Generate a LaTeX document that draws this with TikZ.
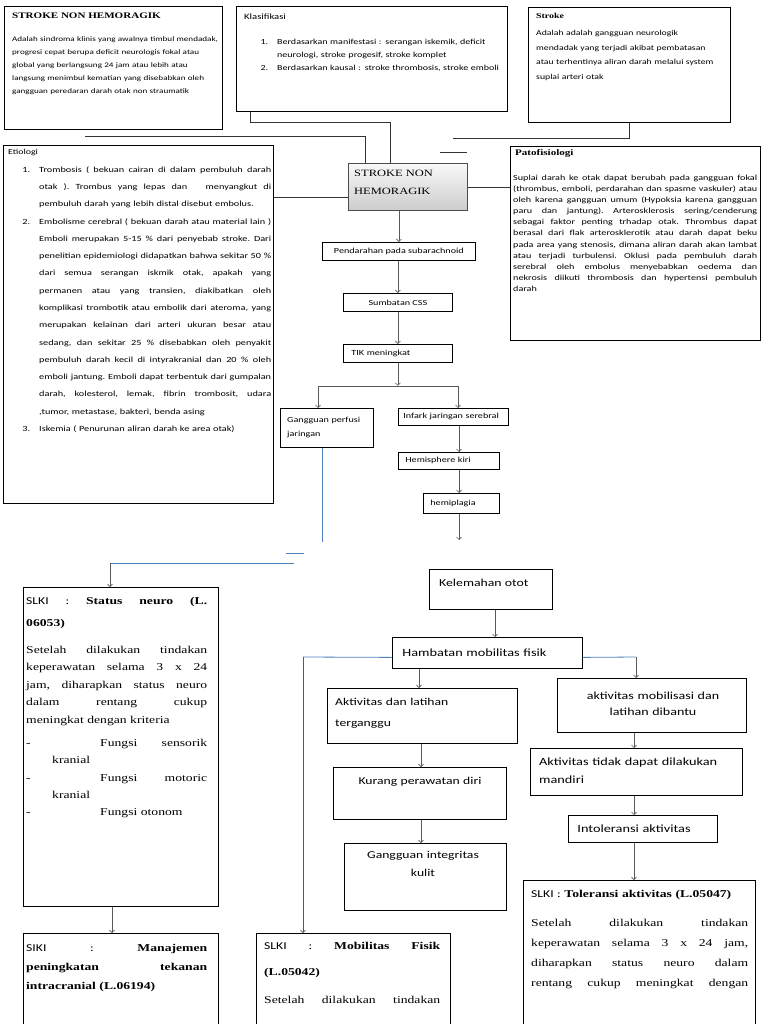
\documentclass[tikz,border=0pt]{standalone}
\usepackage{fontspec}
\setmainfont{Carlito}[FakeStretch=1.3]
\newfontfamily\fserif{Liberation Serif}[FakeStretch=1.3]
\usetikzlibrary{arrows.meta}
\definecolor{garisbiru}{RGB}{79,129,189}
\newcommand{\lb}{100pt}
% baris rata kiri-kanan selebar \lb
\newcommand{\jb}[1]{\leavevmode\hbox to \lb{\frenchspacing\spaceskip=.25em plus 1fil\relax #1}}
\newcommand{\nomor}[1]{\leavevmode\llap{#1\hspace{9pt}}}
\newcommand{\uk}[2]{\fontsize{#1}{#2}\selectfont}
\newcommand{\tb}[1]{{\fserif\bfseries #1}}

\begin{document}
\begin{tikzpicture}[x=1pt,y=-1pt,
  kotak/.style={draw, line width=0.8pt, inner sep=0pt, anchor=north west},
  isi/.style={anchor=base west, inner sep=0pt, align=left},
  alur/.style={kotak, font=\uk{7.8}{10}},
  bawah/.style={kotak, font=\uk{11}{14}},
  panah/.style={draw=black!65, line width=0.6pt, -{Straight Barb[length=2.5pt,width=5pt]}},
  cabang/.style={panah, arrows={Straight Barb[length=2.5pt,width=5pt]-Straight Barb[length=2.5pt,width=5pt]}},
  garis/.style={draw=black!80, line width=0.7pt},
  biru/.style={draw=garisbiru, line width=0.8pt}]
\clip (0,0) rectangle (768,1024);
\fill[white] (0,0) rectangle (768,1024);

%% kotak atas
\node[kotak, minimum width=218pt, minimum height=123pt] (def) at (4,6) {};
\node[isi, font=\uk{8.5}{10}] at (12,18.5) {\tb{STROKE NON HEMORAGIK}};
\node[isi, text width=208pt, font=\uk{7}{13}] at (12,41.5) {Adalah sindroma klinis yang awalnya timbul mendadak,\\
progresi cepat berupa deficit neurologis fokal atau\\
global yang berlangsung 24 jam atau lebih atau\\
langsung menimbul kematian yang disebabkan oleh\\
gangguan peredaran darah otak non straumatik};

\node[kotak, minimum width=271pt, minimum height=105pt] (klas) at (236,6) {};
\node[isi, font=\uk{8.2}{10}] at (244,20) {Klasifikasi};
\node[isi, text width=225pt, font=\uk{7.7}{13}] at (277,44.5) {\nomor{1.}Berdasarkan manifestasi : serangan iskemik, deficit\\
neurologi, stroke progesif, stroke komplet\\
\nomor{2.}Berdasarkan kausal : stroke thrombosis, stroke emboli};

\node[kotak, minimum width=202pt, minimum height=115pt] (strk) at (528,7) {};
\node[isi, font=\uk{7.6}{10}] at (536,19) {\tb{Stroke}};
\node[isi, text width=190pt, font=\uk{7.5}{14.7}] at (536,35.5) {Adalah adalah gangguan neurologik\\
mendadak yang terjadi akibat pembatasan\\
atau terhentinya aliran darah melalui system\\
suplai arteri otak};

%% etiologi
\node[kotak, minimum width=270pt, minimum height=358pt] (etio) at (3,145) {};
\node[isi, font=\uk{7.6}{10}] at (8,155) {Etiologi};
\node[isi, text width=232pt, font=\uk{7.9}{17.25}] at (39,172.5) {\def\lb{232pt}%
\nomor{1.}\jb{Trombosis ( bekuan cairan di dalam pembuluh darah}\\
\jb{otak ). Trombus yang lepas dan \ \ menyangkut di}\\
pembuluh darah yang lebih distal disebut embolus.\\
\nomor{2.}\jb{Embolisme cerebral ( bekuan darah atau material lain )}\\
\jb{Emboli merupakan 5-15 \% dari penyebab stroke. Dari}\\
\jb{penelitian epidemiologi didapatkan bahwa sekitar 50 \%}\\
\jb{dari semua serangan iskmik otak, apakah yang}\\
\jb{permanen atau yang transien, diakibatkan oleh}\\
\jb{komplikasi trombotik atau embolik dari ateroma, yang}\\
\jb{merupakan kelainan dari arteri ukuran besar atau}\\
\jb{sedang, dan sekitar 25 \% disebabkan oleh penyakit}\\
\jb{pembuluh darah kecil di intyrakranial dan 20 \% oleh}\\
\jb{emboli jantung. Emboli dapat terbentuk dari gumpalan}\\
\jb{darah, kolesterol, lemak, fibrin trombosit, udara}\\
,tumor, metastase, bakteri, benda asing\\
\nomor{3.}Iskemia ( Penurunan aliran darah ke area otak)};

%% patofisiologi
\node[kotak, minimum width=250pt, minimum height=194pt] (pato) at (510,146) {};
\node[isi, font=\uk{8.5}{10}] at (515,156) {\tb{Patofisiologi}};
\node[isi, text width=244pt, font=\uk{7.8}{11.1}] at (513,180.5) {\def\lb{244pt}%
\jb{Suplai darah ke otak dapat berubah pada gangguan fokal}\\
\jb{(thrombus, emboli, perdarahan dan spasme vaskuler) atau}\\
\jb{oleh karena gangguan umum (Hypoksia karena gangguan}\\
\jb{paru dan jantung). Arterosklerosis sering/cenderung}\\
\jb{sebagai faktor penting trhadap otak. Thrombus dapat}\\
\jb{berasal dari flak arterosklerotik atau darah dapat beku}\\
\jb{pada area yang stenosis, dimana aliran darah akan lambat}\\
\jb{atau terjadi turbulensi. Oklusi pada pembuluh darah}\\
\jb{serebral oleh embolus menyebabkan oedema dan}\\
\jb{nekrosis diikuti thrombosis dan hypertensi pembuluh}\\
darah};

%% alur tengah
\node[kotak, draw=black!70, top color=gray!5, bottom color=gray!40, minimum width=119pt, minimum height=47pt] (sn) at (348,163) {};
\node[isi, text width=110pt, font=\fserif\uk{9.6}{18}] at (354,177) {STROKE NON\\HEMORAGIK};
\node[alur, minimum width=153pt, minimum height=18pt] (pend) at (322,242) {Pendarahan pada subarachnoid};
\node[alur, minimum width=109pt, minimum height=18pt] (sumb) at (343,293) {Sumbatan CSS};
\node[alur, minimum height=18pt, inner xsep=8pt, text width=93pt, align=left] (tik) at (343,344) {TIK meningkat};
\node[kotak, minimum width=93pt, minimum height=39pt] (gpj) at (280,408) {};
\node[isi, text width=84pt, font=\uk{7.8}{14}] at (287,422) {Gangguan perfusi\\jaringan};
\node[alur, minimum height=17pt, inner xsep=5pt, text width=100pt, align=left] (inf) at (398,408) {Infark jaringan serebral};
\node[alur, minimum height=17pt, inner xsep=7pt, text width=87pt, align=left] (hem) at (398,452) {Hemisphere kiri};
\node[alur, minimum height=20pt, inner xsep=7pt, text width=62pt, align=left] (hpl) at (423,493) {hemiplagia};

%% alur bawah
\node[kotak, minimum width=123pt, minimum height=40pt] (keo) at (429,569) {};
\node[isi, font=\uk{10.6}{14}] at (439,586) {Kelemahan otot};
\node[bawah, minimum height=31pt, inner xsep=10pt, text width=170pt, align=left] (hmf) at (392,637) {Hambatan mobilitas fisik};
\node[kotak, minimum width=190pt, minimum height=55pt] (adl) at (327,688) {};
\node[isi, text width=180pt, font=\uk{10.5}{21}] at (335,705) {Aktivitas dan latihan\\terganggu};
\node[kotak, minimum width=173pt, minimum height=52pt] (kpd) at (333,767) {};
\node[isi, anchor=base, text width=160pt, align=center, font=\uk{10.5}{14}] at (420,784) {Kurang perawatan diri};
\node[kotak, minimum width=162pt, minimum height=67pt] (gik) at (344,843) {};
\node[isi, anchor=base, text width=150pt, align=center, font=\uk{10.5}{18}] at (423,858) {Gangguan integritas\\kulit};
\node[kotak, minimum width=189pt, minimum height=54pt] (amd) at (557,678) {};
\node[isi, anchor=base, text width=180pt, align=center, font=\uk{10.8}{16}] at (653,699) {aktivitas mobilisasi dan\\latihan dibantu};
\node[kotak, minimum width=212pt, minimum height=47pt] (atd) at (530,748) {};
\node[isi, text width=200pt, font=\uk{11}{18}] at (539,765) {Aktivitas tidak dapat dilakukan\\mandiri};
\node[bawah, minimum height=27pt, inner xsep=9pt, text width=131pt, align=left] (ita) at (568,815) {Intoleransi aktivitas};

%% luaran dan intervensi
\node[kotak, minimum width=195pt, minimum height=319pt] (ssn) at (23,587) {};
\node[isi, text width=181pt, font=\uk{10.5}{22}] at (26,604) {\def\lb{181pt}%
\jb{SLKI : \tb{Status neuro (L.}}\\
\tb{06053)}};
\node[isi, text width=181pt, font=\fserif\uk{10.5}{17.5}] at (26,653) {\def\lb{181pt}%
\jb{Setelah dilakukan tindakan}\\
\jb{keperawatan selama 3 x 24}\\
\jb{jam, diharapkan status neuro}\\
\jb{dalam rentang cukup}\\
meningkat dengan kriteria};
\node[isi, text width=181pt, font=\fserif\uk{10.5}{17.25}] at (26,746.5) {\makebox[74pt][l]{-}\hbox to 107pt{Fungsi\hfill sensorik}\\
\hspace*{26pt}kranial\\
\makebox[74pt][l]{-}\hbox to 107pt{Fungsi\hfill motoric}\\
\hspace*{26pt}kranial\\
\makebox[74pt][l]{-}Fungsi otonom};
\node[kotak, minimum width=195pt, minimum height=110pt] (siki) at (23,933) {};
\node[isi, text width=181pt, font=\uk{10.5}{19}] at (26,951) {\def\lb{181pt}%
\jb{SIKI : \tb{Manajemen}}\\
\jb{\tb{peningkatan tekanan}}\\
\tb{intracranial (L.06194)}};
\node[kotak, minimum width=194pt, minimum height=110pt] (smf) at (256,933) {};
\node[isi, text width=176pt, font=\uk{10.5}{26}] at (264,949) {\def\lb{176pt}%
\jb{SLKI : \tb{Mobilitas Fisik}}\\
\tb{(L.05042)}};
\node[isi, text width=176pt, font=\fserif\uk{10.5}{18}] at (264,1003) {\def\lb{176pt}\jb{Setelah dilakukan tindakan}};
\node[kotak, minimum width=232pt, minimum height=160pt] (sta) at (523,880) {};
\node[isi, text width=217pt, font=\uk{10.5}{14}] at (531,897) {SLKI : \tb{Toleransi aktivitas (L.05047)}};
\node[isi, text width=217pt, font=\fserif\uk{10.5}{20}] at (531,926) {\def\lb{217pt}%
\jb{Setelah dilakukan tindakan}\\
\jb{keperawatan selama 3 x 24 jam,}\\
\jb{diharapkan status neuro dalam}\\
\jb{rentang cukup meningkat dengan}};

%% garis atas
\coordinate (ujungkiri) at (85,136);
\coordinate (ujungkanan) at (453,138);
\coordinate (gA) at (440,152);
\coordinate (gB) at (467,152);
\draw[garis] ([xshift=14pt]klas.south west) -- ++(0,11) -| ([xshift=42pt]sn.north west);
\draw[garis] (ujungkiri) -| ([xshift=17pt]sn.north west);
\draw[garis] ([xshift=101pt]strk.south west) |- (ujungkanan);
\draw[garis] (gA) -- (gB);
\draw[garis] ([yshift=-10.5pt]sn.west) -- ([yshift=-10.5pt]sn.west -| etio.east);
\draw[garis] (sn.east) -- (sn.east -| pato.west);

%% panah tengah
\coordinate (titik) at ([yshift=-23pt]tik.south);
\coordinate (ujungbawah) at (459,540);
\draw[panah] (sn.south -| pend.north) -- (pend.north);
\draw[panah] (pend.south -| sumb.north) -- (sumb.north);
\draw[panah] (sumb.south) -- (tik.north);
\draw[panah] (tik.south) -- (titik);
\draw[cabang] ([xshift=38pt]gpj.north west) |- (titik) -| ([xshift=60pt]inf.north west);
\draw[panah] ([xshift=61pt]inf.south west) -- ([xshift=61pt]hem.north west);
\draw[panah] ([xshift=61pt]hem.south west) -- ([xshift=36pt]hpl.north west);
\draw[panah] ([xshift=36pt]hpl.south west) -- (ujungbawah);

%% garis biru
\coordinate (b1) at (322,542);
\coordinate (b2) at (286,553);
\coordinate (b3) at (304,553);
\coordinate (b4) at (110,563);
\coordinate (b5) at (294,563);
\coordinate (bk) at (303,657);
\coordinate (bn) at (636,657);
\draw[biru] ([xshift=42pt]gpj.south west) -- (b1);
\draw[biru] (b2) -- (b3);
\draw[biru] (b4) -- (b5);
\draw[panah] (b4) -- (b4 |- ssn.north);
\draw[panah] ([xshift=89pt]ssn.south west) -- ([xshift=89pt]siki.north west);
\draw[biru] ([yshift=-4.5pt]hmf.west) -- (bk);
\draw[panah] (bk) -- (bk |- smf.north);
\draw[biru] ([yshift=-4.5pt]hmf.east) -- (bn);
\draw[panah] (bn) -- (bn |- amd.north);

%% panah bawah
\draw[panah] ([xshift=66pt]keo.south west) -- ([xshift=103pt]hmf.north west);
\draw[panah] ([xshift=27pt]hmf.south west) -- ([xshift=92pt]adl.north west);
\draw[panah] ([xshift=94pt]adl.south west) -- ([xshift=88pt]kpd.north west);
\draw[panah] ([xshift=88pt]kpd.south west) -- ([xshift=77pt]gik.north west);
\draw[panah] ([xshift=77pt]amd.south west) -- ([xshift=104pt]atd.north west);
\draw[panah] ([xshift=104pt]atd.south west) -- ([xshift=66pt]ita.north west);
\draw[panah] ([xshift=66pt]ita.south west) -- ([xshift=111pt]sta.north west);
\end{tikzpicture}
\end{document}
